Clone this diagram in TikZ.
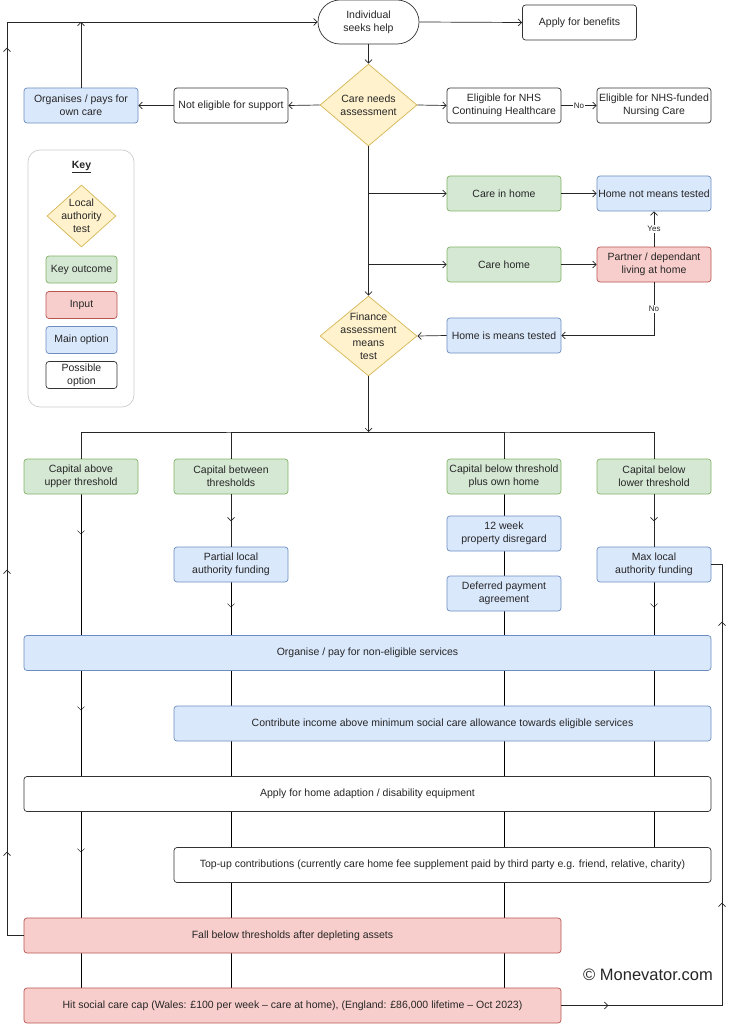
\documentclass[tikz,border=0pt]{standalone}
\usepackage{fontspec}
\setmainfont{Liberation Sans}
\usetikzlibrary{shapes.geometric,arrows.meta,decorations.markings,backgrounds}

\definecolor{yfill}{HTML}{FFF2CC}
\definecolor{yline}{HTML}{D6B656}
\definecolor{gfill}{HTML}{D5E8D4}
\definecolor{gline}{HTML}{82B366}
\definecolor{rfill}{HTML}{F8CECC}
\definecolor{rline}{HTML}{B85450}
\definecolor{bfill}{HTML}{DAE8FC}
\definecolor{bline}{HTML}{6C8EBF}

\begin{document}
\begin{tikzpicture}[x=1pt, y=-1pt, >={Straight Barb[length=3.5pt,width=7pt]}, line width=0.7pt, color=black!85,
  every node/.style={font=\fontsize{10.5}{13}\selectfont, align=center},
  box/.style={draw=black!80, rounded corners=3pt, minimum width=114pt, minimum height=35pt, inner sep=1pt},
  possible/.style={box, fill=white},
  outcome/.style={box, draw=gline, fill=gfill},
  input/.style={box, draw=rline, fill=rfill},
  mainopt/.style={box, draw=bline, fill=bfill},
  test/.style={diamond, draw=yline, fill=yfill, minimum width=97pt, minimum height=82pt, inner sep=-14pt},
  keyitem/.style={minimum width=71pt, minimum height=27pt},
  lbl/.style={font=\fontsize{8}{9}\selectfont, fill=white, inner sep=1pt},
  tipat/.style={postaction={decorate, decoration={markings, mark=at position #1 with {\arrow{>}}}}}]
\useasboundingbox (0,0) rectangle (736,1024);

% top of the chart
\node[possible, rounded corners=22pt, minimum width=101pt, minimum height=44pt] (start) at (368.5,22) {Individual\\seeks help};
\node[possible] (benefits) at (579.5,22.5) {Apply for benefits};
\node[test] (needs) at (368.5,105) {Care needs\\assessment};
\node[possible] (noteligible) at (231,105.5) {Not eligible for support};
\node[mainopt] (ownpay) at (81,105.5) {Organises / pays for\\own care};
\node[possible] (chc) at (504,105.5) {Eligible for NHS\\Continuing Healthcare};
\node[possible] (fnc) at (654,105.5) {Eligible for NHS-funded\\Nursing Care};

% care setting
\node[outcome] (carein) at (504,193.5) {Care in home};
\node[mainopt] (notmeans) at (654,193.5) {Home not means tested};
\node[outcome] (carehome) at (504,264.5) {Care home};
\node[input] (partner) at (654,264.5) {Partner / dependant\\living at home};
\node[mainopt] (meanstest) at (504,335.5) {Home is means tested};
\node[test, minimum height=80pt] (finance) at (368.5,336) {Finance\\assessment\\means\\test};

% key
\node[draw=black!20, rounded corners=12pt, minimum width=106pt, minimum height=257pt] (keyframe) at (81,278.5) {};
\node[font=\fontsize{10.5}{13}\selectfont\bfseries] (keytitle) at (81.5,167) {\underline{Key}};
\node[test, minimum width=69pt, minimum height=62pt] (keytest) at (81.5,216) {Local\\authority\\test};
\node[outcome, keyitem] (keyoutcome) at (81.5,269.5) {Key outcome};
\node[input, keyitem] (keyinput) at (81.5,305) {Input};
\node[mainopt, keyitem] (keymain) at (81.5,340) {Main option};
\node[possible, keyitem] (keypossible) at (81.5,375) {Possible\\option};

% capital bands
\coordinate (bus) at (368.5,432);
\node[outcome] (capabove) at (81,476.5) {Capital above\\upper threshold};
\node[outcome] (capbetween) at (231,476.5) {Capital between\\thresholds};
\node[outcome] (caphome) at (504,476.5) {Capital below threshold\\plus own home};
\node[outcome] (capbelow) at (654,476.5) {Capital below\\lower threshold};
\node[mainopt] (partial) at (231,564.5) {Partial local\\authority funding};
\node[mainopt] (disregard) at (504,533.5) {12 week\\property disregard};
\node[mainopt] (deferred) at (504,593.5) {Deferred payment\\agreement};
\node[mainopt] (maxfund) at (654,564.5) {Max local\\authority funding};

% wide bars
\node[mainopt, minimum width=687pt] (nonelig) at (367.5,653) {Organise / pay for non-eligible services};
\node[mainopt, minimum width=537pt] (contrib) at (442.5,723.5) {Contribute income above minimum social care allowance towards eligible services};
\node[possible, minimum width=687pt] (adapt) at (367.5,794) {Apply for home adaption / disability equipment};
\node[possible, minimum width=537pt] (topup) at (442.5,865) {Top-up contributions (currently care home fee supplement paid by third party e.g. friend, relative, charity)};
\node[input, minimum width=537pt] (deplete) at (292.5,935.5) {Fall below thresholds after depleting assets};
\node[input, minimum width=537pt] (cap) at (292.5,1005.5) {Hit social care cap (Wales: £100 per week -- care at home), (England: £86,000 lifetime -- Oct 2023)};
\node[font=\fontsize{16.5}{18}\selectfont] (credit) at (648,975) {© Monevator.com};

\coordinate (leftrail) at (7,0);
\coordinate (rightrail) at (722,0);

% connectors
\draw[->] (start.east) -- (benefits.west);
\draw[->] (start.south) -- (needs.north);
\draw[->] (needs.west) -- (noteligible.east);
\draw[->] (noteligible.west) -- (ownpay.east);
\draw[->] (ownpay.north) -- (ownpay.north |- start.west);
\draw[->] (needs.east) -- (chc.west);
\draw[->] (chc.east) -- node[lbl] {No} (fnc.west);
\draw[->] (needs.south) -- (finance.north);
\draw[->] (needs.south |- carein.west) -- (carein.west);
\draw[->] (needs.south |- carehome.west) -- (carehome.west);
\draw[->] (carein.east) -- (notmeans.west);
\draw[->] (carehome.east) -- (partner.west);
\draw[->] (partner.north) -- node[lbl] {Yes} (notmeans.south);
\draw[->] (partner.south) |- node[lbl, pos=0.25] {No} (meanstest.east);
\draw[->] (meanstest.west) -- (finance.east);
\draw[->] (finance.south) -- (bus);
\draw (capabove.north) |- (bus) -| (capbelow.north);
\draw (bus) -| (capbetween.north);
\draw (bus) -| (caphome.north);
\draw[tipat=27pt] (capbetween.south) -- (partial.north);
\draw[tipat=27pt] (capbelow.south) -- (maxfund.north);

% columns run behind the bars
\begin{scope}[on background layer]
\draw[tipat=40pt, tipat=216pt, tipat=358pt] (capabove.south) -- (capabove |- cap.north);
\draw[tipat=25pt] (partial.south) -- (partial |- cap.north);
\draw (caphome.south) -- (caphome |- cap.north);
\draw[tipat=25pt] (maxfund.south) -- (maxfund |- topup.north);
\end{scope}

% loops back
\draw[->, tipat=100.5pt, tipat=382.5pt, tipat=904.5pt] (deplete.west) -- (leftrail |- deplete.west) -- (leftrail |- start.west) -- (start.west);
\draw[tipat=47pt, tipat=263.5pt, tipat=544.5pt] (cap.east) -- (rightrail |- cap.east) -- (rightrail |- maxfund.east) -- (maxfund.east);
\end{tikzpicture}
\end{document}
